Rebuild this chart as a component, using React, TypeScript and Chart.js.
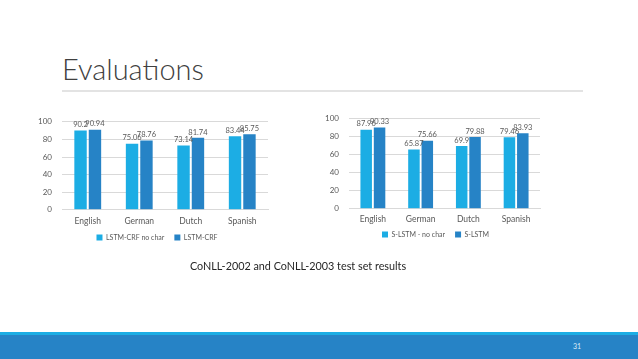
import React, { useEffect, useRef } from "react";
import { Chart, registerables } from "chart.js";

Chart.register(...registerables);

const categories = ["English", "German", "Dutch", "Spanish"];
const yTicks = [0, 20, 40, 60, 80, 100];

const leftSeriesNames = ["LSTM-CRF no char", "LSTM-CRF"];
const leftNoChar = [90.2, 75.06, 73.14, 83.44];
const leftFull = [90.94, 78.76, 81.74, 85.75];

const rightSeriesNames = ["S-LSTM - no char", "S-LSTM"];
const rightNoChar = [87.96, 65.87, 69.9, 79.46];
const rightFull = [90.33, 75.66, 79.88, 83.93];

const LIGHT = "#1CADE4";
const DARK = "#2683C6";
const FONT = "Lato, 'Open Sans', sans-serif";

const dataLabelPlugin = {
  id: "dataLabels",
  afterDatasetsDraw(chart: any) {
    const ctx = chart.ctx;
    ctx.save();
    ctx.font = `7.5px ${FONT}`;
    ctx.fillStyle = "#595959";
    ctx.textAlign = "center";
    ctx.textBaseline = "bottom";
    chart.data.datasets.forEach((ds: any, i: number) => {
      const meta = chart.getDatasetMeta(i);
      meta.data.forEach((bar: any, j: number) => {
        ctx.fillText(String(ds.data[j]), bar.x, bar.y - 2);
      });
    });
    ctx.restore();
  },
};

function BarChart(props: {
  names: string[];
  a: number[];
  b: number[];
  yWidth: number;
  xPad: number;
  padTop: number;
  padRight: number;
  legendShift: number;
  legendLift: number;
  width: number;
  height: number;
}) {
  const ref = useRef<HTMLCanvasElement>(null);
  useEffect(() => {
    const legendShiftPlugin = {
      id: "legendShift",
      afterLayout(chart: any) {
        if (chart.legend) {
          chart.legend.left += props.legendShift;
          chart.legend.right += props.legendShift;
          chart.legend.top -= props.legendLift;
          chart.legend.bottom -= props.legendLift;
        }
      },
    };
    const chart = new Chart(ref.current!, {
      type: "bar",
      data: {
        labels: categories,
        datasets: [
          { label: props.names[0], data: props.a, backgroundColor: LIGHT },
          { label: props.names[1], data: props.b, backgroundColor: DARK },
        ],
      },
      options: {
        animation: false,
        responsive: false,
        layout: { padding: { top: props.padTop, right: props.padRight, left: 0, bottom: 2 } },
        datasets: { bar: { categoryPercentage: 0.56, barPercentage: 0.86 } } as any,
        plugins: {
          legend: {
            position: "bottom",
            labels: {
              boxWidth: 6,
              boxHeight: 6,
              padding: 10,
              color: "#595959",
              font: { family: FONT, size: 7 },
            },
          },
          tooltip: { enabled: false },
        },
        scales: {
          x: {
            grid: { display: false, drawTicks: false },
            border: { color: "#D9D9D9" },
            ticks: { color: "#595959", font: { family: FONT, size: 8.5 }, padding: props.xPad },
          },
          y: {
            min: 0,
            max: 100,
            afterBuildTicks: (s: any) => {
              s.ticks = yTicks.map((v) => ({ value: v }));
            },
            afterFit: (s: any) => {
              s.width = props.yWidth;
            },
            grid: { color: "#D9D9D9", drawTicks: false },
            border: { display: false },
            ticks: { color: "#595959", font: { family: FONT, size: 8 }, padding: 10 },
          },
        },
      },
      plugins: [dataLabelPlugin, legendShiftPlugin],
    });
    return () => chart.destroy();
  }, []);
  return <canvas ref={ref} width={props.width} height={props.height} style={{ display: "block" }} />;
}

export default function App() {
  return (
    <div
      style={{
        position: "absolute",
        left: 0,
        top: 0,
        width: 638,
        height: 359,
        background: "#fff",
        overflow: "hidden",
        fontFamily: FONT,
      }}
    >
      <div
        style={{
          position: "absolute",
          left: 62,
          top: 51,
          fontSize: 29,
          fontWeight: 300,
          color: "#404040",
          lineHeight: "36px",
        }}
      >
        Evaluations
      </div>
      <div style={{ position: "absolute", left: 62, top: 90, width: 521, height: 2, background: "#E3E3E3" }} />

      <div style={{ position: "absolute", left: 20, top: 107 }}>
        <BarChart names={leftSeriesNames} a={leftNoChar} b={leftFull} yWidth={42} xPad={6} padTop={10} padRight={12} legendShift={13} legendLift={8} width={260} height={154} />
      </div>
      <div style={{ position: "absolute", left: 305, top: 104 }}>
        <BarChart names={rightSeriesNames} a={rightNoChar} b={rightFull} yWidth={44} xPad={5} padTop={10} padRight={12} legendShift={13} legendLift={8} width={247} height={154} />
      </div>

      <div
        style={{
          position: "absolute",
          left: 190,
          top: 259,
          fontSize: 10.8,
          color: "#262626",
          whiteSpace: "nowrap",
        }}
      >
        CoNLL-2002 and CoNLL-2003 test set results
      </div>

      <div style={{ position: "absolute", left: 0, top: 332, width: 638, height: 3, background: "#1CADE4" }} />
      <div style={{ position: "absolute", left: 0, top: 335, width: 638, height: 24, background: "#2683C6" }} />
      <div
        style={{
          position: "absolute",
          left: 573,
          top: 342,
          fontSize: 7,
          color: "#DCEBF7",
        }}
      >
        31
      </div>
    </div>
  );
}
